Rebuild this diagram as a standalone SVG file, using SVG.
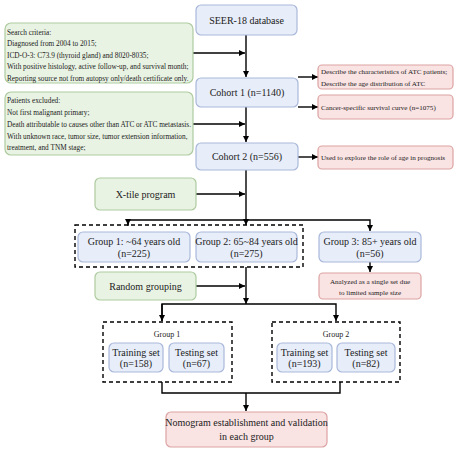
<svg xmlns="http://www.w3.org/2000/svg" width="474" height="454" viewBox="0 0 474 454">
<defs>
<marker id="ah" viewBox="0 0 10 10" refX="10" refY="5" markerWidth="6" markerHeight="6" orient="auto" markerUnits="userSpaceOnUse">
<path d="M0,0 L10,5 L0,10 z" fill="#000"/>
</marker>
<style>
.blue{fill:#e7edf9;stroke:#a9b8da;stroke-width:1.2}
.green{fill:#e9f3e3;stroke:#aecb9f;stroke-width:1.2}
.pink{fill:#fae3e3;stroke:#dca3a3;stroke-width:1.2}
.dash{fill:none;stroke:#000;stroke-width:1.4;stroke-dasharray:4,3}
text{font-family:"Liberation Serif","Times New Roman",serif;fill:#222}
.c{text-anchor:middle}
.m{font-size:10px}
.s{font-size:7.3px}
.g{font-size:8px}
.xs{font-size:7.1px}
.ln{fill:none;stroke:#000;stroke-width:1.4}
</style>
</defs>
<rect width="474" height="454" fill="#fff"/>
<g id="connectors">
<line class="ln" x1="246" y1="35" x2="246" y2="77" marker-end="url(#ah)"/>
<line class="ln" x1="193" y1="53" x2="245" y2="53" marker-end="url(#ah)"/>
<line class="ln" x1="298" y1="77" x2="318" y2="77" marker-end="url(#ah)"/>
<line class="ln" x1="298" y1="107" x2="318" y2="107" marker-end="url(#ah)"/>
<line class="ln" x1="246" y1="107" x2="246" y2="142" marker-end="url(#ah)"/>
<line class="ln" x1="193" y1="124" x2="245" y2="124" marker-end="url(#ah)"/>
<line class="ln" x1="298" y1="157" x2="318" y2="157" marker-end="url(#ah)"/>
<line class="ln" x1="246" y1="170" x2="246" y2="220"/>
<line class="ln" x1="196" y1="194" x2="245" y2="194" marker-end="url(#ah)"/>
<polyline class="ln" points="128,226 128,220 370,220 370,231" marker-end="url(#ah)"/>
<line class="ln" x1="128" y1="220" x2="128" y2="225" marker-end="url(#ah)"/>
<line class="ln" x1="246" y1="220" x2="246" y2="225" marker-end="url(#ah)"/>
<line class="ln" x1="370" y1="262" x2="370" y2="272" marker-end="url(#ah)"/>
<line class="ln" x1="246" y1="267" x2="246" y2="304" marker-end="url(#ah)"/>
<line class="ln" x1="196" y1="286" x2="245" y2="286" marker-end="url(#ah)"/>
<polyline class="ln" points="162,321 162,304 336,304 336,321" marker-end="url(#ah)"/>
<line class="ln" x1="162" y1="304" x2="162" y2="321" marker-end="url(#ah)"/>
<polyline class="ln" points="162,382 162,393 340,393 340,382"/>
<line class="ln" x1="246" y1="393" x2="246" y2="411" marker-end="url(#ah)"/>
</g>
<g id="seer"><rect class="blue" x="196" y="5" width="101" height="30" rx="5"/><text class="c m" x="246.5" y="24">SEER-18 database</text></g>
<g id="search"><rect class="green" x="5" y="23" width="188" height="60" rx="6"/>
<text class="s" x="7" y="34.5">Search criteria:</text>
<text class="s" x="7" y="46">Diagnosed from 2004 to 2015;</text>
<text class="s" x="7" y="57.5">ICD-O-3: C73.9 (thyroid gland) and 8020-8035;</text>
<text class="s" x="7" y="69">With positive histology, active follow-up, and survival month;</text>
<text class="s" x="7" y="80.5">Reporting source not from autopsy only/death certificate only.</text>
</g>
<g id="cohort1"><rect class="blue" x="196" y="78" width="102" height="29" rx="5"/><text class="c m" x="247" y="96">Cohort 1 (n=1140)</text></g>
<g id="excluded"><rect class="green" x="5" y="92" width="188" height="63" rx="6"/>
<text class="s" x="7" y="102.5">Patients excluded:</text>
<text class="s" x="7" y="114.5">Not first malignant primary;</text>
<text class="s" x="7" y="126.5">Death attributable to causes other than ATC or ATC metastasis.</text>
<text class="s" x="7" y="138.5">With unknown race, tumor size, tumor extension information,</text>
<text class="s" x="7" y="150">treatment, and TNM stage;</text>
</g>
<g id="describe"><rect class="pink" x="318" y="65" width="135" height="24" rx="4"/>
<text class="xs" x="321" y="74">Describe the characteristics  of ATC patients;</text>
<text class="xs" x="321" y="85.5">Describe the age distribution of ATC</text></g>
<g id="survival"><rect class="pink" x="318" y="95" width="135" height="24" rx="4"/>
<text class="xs" x="321" y="109.5">Cancer-specific survival curve  (n=1075)</text></g>
<g id="cohort2"><rect class="blue" x="196" y="143" width="102" height="27" rx="5"/><text class="c m" x="247" y="160">Cohort 2 (n=556)</text></g>
<g id="role"><rect class="pink" x="318" y="146" width="135" height="23" rx="4"/>
<text class="xs" x="321" y="160">Used to explore the role of age in prognosis</text></g>
<g id="xtile"><rect class="green" x="95" y="178" width="101" height="32" rx="5"/><text class="c m" x="145.5" y="197.5">X-tile program</text></g>
<g id="groups12"><rect class="dash" x="75" y="225" width="228" height="42"/></g>
<g id="group1"><rect class="blue" x="78" y="232" width="112" height="30" rx="5"/>
<text class="c m" x="134" y="245">Group 1: ~64 years old</text><text class="c m" x="134" y="256.5">(n=225)</text></g>
<g id="group2"><rect class="blue" x="196" y="232" width="101" height="30" rx="5"/>
<text class="c m" x="246.5" y="245">Group 2: 65~84 years old</text><text class="c m" x="246.5" y="256.5">(n=275)</text></g>
<g id="group3"><rect class="blue" x="319" y="232" width="102" height="30" rx="5"/>
<text class="c m" x="370" y="245">Group 3: 85+ years old</text><text class="c m" x="370" y="256.5">(n=56)</text></g>
<g id="analyzed"><rect class="pink" x="319" y="273" width="102" height="26" rx="4"/>
<text class="c xs" x="370" y="283.5">Analyzed as a single set due</text><text class="c xs" x="370" y="295">to limited sample size</text></g>
<g id="random"><rect class="green" x="95" y="272" width="101" height="28" rx="5"/><text class="c m" x="145.5" y="289.5">Random grouping</text></g>
<g id="g1box"><rect class="dash" x="103" y="322" width="129" height="60"/><text class="c g" x="167" y="337">Group 1</text></g>
<g id="train1"><rect class="blue" x="109" y="343" width="54" height="29" rx="5"/>
<text class="c m" x="136" y="355.5">Training set</text><text class="c m" x="136" y="367">(n=158)</text></g>
<g id="test1"><rect class="blue" x="169" y="343" width="55" height="29" rx="5"/>
<text class="c m" x="196.5" y="355.5">Testing set</text><text class="c m" x="196.5" y="367">(n=67)</text></g>
<g id="g2box"><rect class="dash" x="272" y="322" width="128" height="60"/><text class="c g" x="336" y="337">Group 2</text></g>
<g id="train2"><rect class="blue" x="277" y="343" width="55" height="29" rx="5"/>
<text class="c m" x="304.5" y="355.5">Training set</text><text class="c m" x="304.5" y="367">(n=193)</text></g>
<g id="test2"><rect class="blue" x="337" y="343" width="58" height="29" rx="5"/>
<text class="c m" x="366" y="355.5">Testing set</text><text class="c m" x="366" y="367">(n=82)</text></g>
<g id="nomogram"><rect class="pink" x="166" y="412" width="161" height="35" rx="5"/>
<text class="c m" x="246.5" y="426">Nomogram establishment and validation</text><text class="c m" x="246.5" y="440">in each group</text></g>
</svg>
